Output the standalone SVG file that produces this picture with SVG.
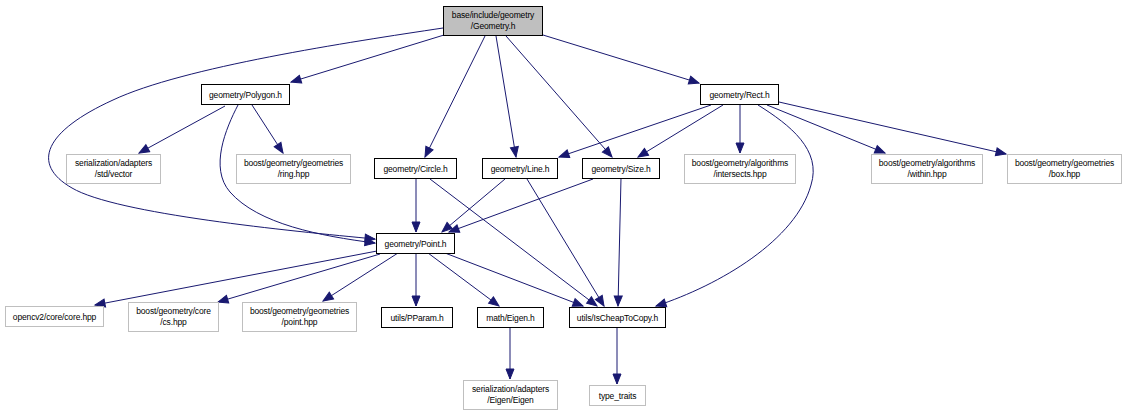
<svg xmlns="http://www.w3.org/2000/svg" width="1127" height="416" viewBox="0 0 1127 416">
<style>
.n rect{fill:#fff;stroke:#000;stroke-width:1}
.x rect{fill:#fff;stroke:#bfbfbf;stroke-width:1}
.r rect{fill:#bfbfbf;stroke:#000;stroke-width:1}
text{font-family:"Liberation Sans",Arial,sans-serif;font-size:8.5px;letter-spacing:-0.15px;text-anchor:middle;fill:#000}
.e path{fill:none;stroke:#191970;stroke-width:1;marker-end:url(#a)}
</style>
<defs>
<marker id="a" markerUnits="userSpaceOnUse" markerWidth="12" markerHeight="10" refX="10" refY="4" orient="auto" overflow="visible">
<path d="M0,0 L10,4 L0,8 Z" fill="#191970" stroke="#191970" stroke-width="1"/>
</marker>
</defs>
<rect width="1127" height="416" fill="#fff"/>
<g id="edges" class="e">
<path d="M443,28 C350,42 183,67 113,100 C45,131 30,164 72,188 C116,214 290,231 375,239"/>
<path d="M444,35 L291,82"/>
<path d="M485,36 L425,157"/>
<path d="M496,36 L516,157"/>
<path d="M506,36 L612,157"/>
<path d="M543,35 L699,83"/>
<path d="M225,106 L139,153"/>
<path d="M252,105 L283,153"/>
<path d="M238,105 C226,128 209,168 230,192 C258,224 320,236 375,243"/>
<path d="M711,105 L559,157"/>
<path d="M723,105 L638,157"/>
<path d="M740,105 L740,153"/>
<path d="M758,105 C790,125 822,150 811,185 C796,240 720,285 656,306"/>
<path d="M767,105 L885,153"/>
<path d="M779,102 L1006,154"/>
<path d="M416,179 L416,232"/>
<path d="M430,179 L597,306"/>
<path d="M505,179 L442,232"/>
<path d="M527,179 L604,306"/>
<path d="M593,179 L449,232"/>
<path d="M621,178 L618,306"/>
<path d="M377,251 L95,305"/>
<path d="M380,254 L218,302"/>
<path d="M398,253 L323,301"/>
<path d="M416,253 L416,306"/>
<path d="M428,253 L499,306"/>
<path d="M445,253 L583,306"/>
<path d="M510,327 L510,379"/>
<path d="M617,327 L617,384"/>
</g>
<g id="geometry_h" class="r"><rect x="443.5" y="6.5" width="99" height="29"/><text x="493" y="18">base/include/geometry</text><text x="493" y="29">/Geometry.h</text></g>
<g id="polygon_h" class="n"><rect x="201.5" y="84.5" width="88" height="20"/><text x="245.5" y="97.5">geometry/Polygon.h</text></g>
<g id="rect_h" class="n"><rect x="700.5" y="84.5" width="78" height="20"/><text x="739.5" y="97.5">geometry/Rect.h</text></g>
<g id="std_vector" class="x"><rect x="66.5" y="154.5" width="94" height="29"/><text x="113.5" y="166">serialization/adapters</text><text x="113.5" y="177">/std/vector</text></g>
<g id="ring_hpp" class="x"><rect x="236.5" y="154.5" width="114" height="29"/><text x="293.5" y="166">boost/geometry/geometries</text><text x="293.5" y="177">/ring.hpp</text></g>
<g id="circle_h" class="n"><rect x="374.5" y="158.5" width="82" height="20"/><text x="415.5" y="171.5">geometry/Circle.h</text></g>
<g id="line_h" class="n"><rect x="482.5" y="158.5" width="75" height="20"/><text x="520" y="171.5">geometry/Line.h</text></g>
<g id="size_h" class="n"><rect x="582.5" y="158.5" width="77" height="20"/><text x="621" y="171.5">geometry/Size.h</text></g>
<g id="intersects_hpp" class="x"><rect x="684.5" y="154.5" width="111" height="29"/><text x="740" y="166">boost/geometry/algorithms</text><text x="740" y="177">/intersects.hpp</text></g>
<g id="within_hpp" class="x"><rect x="871.5" y="154.5" width="111" height="29"/><text x="927" y="166">boost/geometry/algorithms</text><text x="927" y="177">/within.hpp</text></g>
<g id="box_hpp" class="x"><rect x="1007.5" y="154.5" width="114" height="29"/><text x="1064.5" y="166">boost/geometry/geometries</text><text x="1064.5" y="177">/box.hpp</text></g>
<g id="point_h" class="n"><rect x="376.5" y="233.5" width="78" height="20"/><text x="415.5" y="246.5">geometry/Point.h</text></g>
<g id="core_hpp" class="x"><rect x="5.5" y="306.5" width="98" height="20"/><text x="54.5" y="319.5">opencv2/core/core.hpp</text></g>
<g id="cs_hpp" class="x"><rect x="128.5" y="302.5" width="90" height="29"/><text x="173.5" y="314">boost/geometry/core</text><text x="173.5" y="325">/cs.hpp</text></g>
<g id="point_hpp" class="x"><rect x="242.5" y="302.5" width="114" height="29"/><text x="299.5" y="314">boost/geometry/geometries</text><text x="299.5" y="325">/point.hpp</text></g>
<g id="pparam_h" class="n"><rect x="381.5" y="307.5" width="71" height="20"/><text x="417" y="320.5">utils/PParam.h</text></g>
<g id="eigen_h" class="n"><rect x="477.5" y="307.5" width="66" height="20"/><text x="510.5" y="320.5">math/Eigen.h</text></g>
<g id="ischeaptocopy_h" class="n"><rect x="569.5" y="307.5" width="96" height="20"/><text x="617.5" y="320.5">utils/IsCheapToCopy.h</text></g>
<g id="eigen_eigen" class="x"><rect x="463.5" y="380.5" width="94" height="29"/><text x="510.5" y="392">serialization/adapters</text><text x="510.5" y="403">/Eigen/Eigen</text></g>
<g id="type_traits" class="x"><rect x="589.5" y="385.5" width="56" height="20"/><text x="617.5" y="398.5">type_traits</text></g>
</svg>
